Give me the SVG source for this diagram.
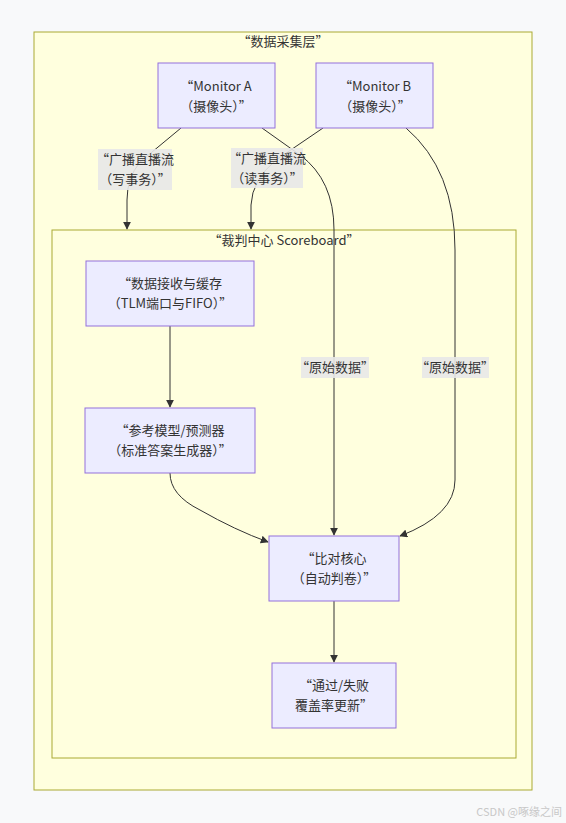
<svg xmlns="http://www.w3.org/2000/svg" width="566" height="823" viewBox="0 0 566 823">
<defs>
<style>
.cl{fill:#ffffde;stroke:#aaaa33;stroke-width:1}
.nd{fill:#ececff;stroke:#9370db;stroke-width:1}
.t{font-family:"Noto Sans CJK SC","Noto Sans",sans-serif;font-size:13px;fill:#333;text-anchor:middle}
.e{fill:none;stroke:#333;stroke-width:1}
.lb{fill:#e8e8e8;opacity:0.9}
</style>
<marker id="ah" viewBox="0 0 10 10" refX="9" refY="5" markerWidth="8" markerHeight="8" orient="auto" markerUnits="userSpaceOnUse">
<path d="M0,0 L10,5 L0,10 z" fill="#333"/>
</marker>
</defs>
<rect x="0" y="0" width="566" height="823" fill="#f8f9fa"/>
<g id="cluster-collect">
<rect class="cl" x="34" y="32" width="498" height="758"/>
<text class="t" x="283" y="46">“数据采集层”</text>
</g>
<g id="cluster-scoreboard">
<rect class="cl" x="52" y="230" width="464" height="528"/>
<text class="t" x="284" y="245">“裁判中心 Scoreboard”</text>
</g>
<g id="connectors">
<path class="e" d="M181,128 L140,162 Q127,178 127,200 L127,229" marker-end="url(#ah)"/>
<path class="e" d="M323,128 L276,160 Q252,180 251,205 L251,229" marker-end="url(#ah)"/>
<path class="e" d="M262,128 L300,155 Q334,180 334,230 L334,535" marker-end="url(#ah)"/>
<path class="e" d="M406,128 Q455,170 455,250 L455,480 Q455,515 400,536" marker-end="url(#ah)"/>
<path class="e" d="M170,326 L170,407" marker-end="url(#ah)"/>
<path class="e" d="M170,473 Q170,495 200,510 Q235,530 268,542" marker-end="url(#ah)"/>
<path class="e" d="M334,601 L334,662" marker-end="url(#ah)"/>
<rect class="lb" x="98" y="149" width="74" height="41"/>
<text class="t" x="135" y="164">“广播直播流</text>
<text class="t" x="135" y="184">（写事务）”</text>
<rect class="lb" x="231" y="148" width="72" height="40"/>
<text class="t" x="267" y="163">“广播直播流</text>
<text class="t" x="267" y="183">（读事务）”</text>
<rect class="lb" x="301" y="357" width="68" height="21"/>
<text class="t" x="335" y="372">“原始数据”</text>
<rect class="lb" x="422" y="357" width="67" height="21"/>
<text class="t" x="455" y="372">“原始数据”</text>
</g>
<g id="monitorA">
<rect class="nd" x="158" y="63" width="117" height="65"/>
<text class="t" x="216" y="91">“Monitor A</text>
<text class="t" x="216" y="111">（摄像头）”</text>
</g>
<g id="monitorB">
<rect class="nd" x="316" y="63" width="117" height="65"/>
<text class="t" x="375" y="91">“Monitor B</text>
<text class="t" x="375" y="111">（摄像头）”</text>
</g>
<g id="recv">
<rect class="nd" x="86" y="261" width="168" height="65"/>
<text class="t" x="170" y="288">“数据接收与缓存</text>
<text class="t" x="170" y="308">（TLM端口与FIFO）”</text>
</g>
<g id="refmodel">
<rect class="nd" x="85" y="408" width="170" height="65"/>
<text class="t" x="170" y="435">“参考模型/预测器</text>
<text class="t" x="170" y="455">（标准答案生成器）”</text>
</g>
<g id="compare">
<rect class="nd" x="269" y="536" width="130" height="65"/>
<text class="t" x="334" y="563">“比对核心</text>
<text class="t" x="334" y="583">（自动判卷）”</text>
</g>
<g id="result">
<rect class="nd" x="272" y="663" width="124" height="65"/>
<text class="t" x="334" y="690">“通过/失败</text>
<text class="t" x="334" y="710">覆盖率更新”</text>
</g>
<text x="562" y="816" style="font-family:'Noto Sans CJK SC','Noto Sans',sans-serif;font-size:11px;fill:#c8c8c8;text-anchor:end">CSDN @啄缘之间</text>
</svg>
